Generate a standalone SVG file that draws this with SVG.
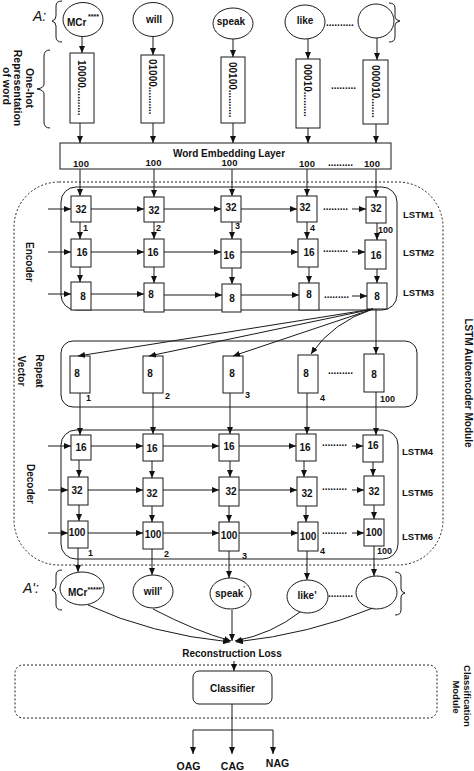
<svg xmlns="http://www.w3.org/2000/svg" width="474" height="771" viewBox="0 0 474 771">
<defs>
<marker id="ah" markerWidth="8" markerHeight="6" refX="7" refY="3" orient="auto" markerUnits="userSpaceOnUse"><path d="M0,0 L7,3 L0,6 z" fill="#111"/></marker>
<style>
.ln{stroke:#1a1a1a;stroke-width:1;fill:none}
.ar{stroke:#1a1a1a;stroke-width:1;fill:none;marker-end:url(#ah)}
.bx{fill:#fff;stroke:#1a1a1a;stroke-width:1}
.dot{fill:none;stroke:#222;stroke-width:1;stroke-dasharray:2 2}
.t{font-family:"Liberation Sans",Arial,sans-serif;font-weight:bold;font-size:10px;fill:#111}
.c{text-anchor:middle}
.s{font-size:9.5px}
.sm{font-size:9px}
.sup{font-size:7px}
.it{font-family:"Liberation Sans",Arial,sans-serif;font-style:italic;font-size:14px;fill:#111}
</style>
</defs>
<rect width="474" height="771" fill="#fff"/>

<!-- module containers -->
<g id="lstm-autoencoder-module">
<rect class="dot" x="14" y="182" width="429" height="383" rx="45"/>
<text class="t c" transform="translate(465,383) rotate(90)">LSTM Autoencoder Module</text>
</g>
<g id="classification-module">
<rect class="dot" x="15" y="665" width="422" height="53" rx="8"/>
<text class="t c s" transform="translate(464,696) rotate(90)">Classification</text>
<text class="t c s" transform="translate(453,697) rotate(90)">Module</text>
</g>

<!-- input words -->
<g id="input-A">
<text class="it" x="33" y="21">A:</text>
<path class="ln" d="M62,1 Q56,1 56,6 V16 Q56,20 52,21 Q56,22 56,26 V37 Q56,42 62,42"/>
<path class="ln" d="M389,3 Q395,3 395,8 V17 Q395,20 400,21 Q395,22 395,25 V37 Q395,42 389,42"/>
<text class="t" x="326" y="26">..........</text>
</g>
<g id="w1"><ellipse class="bx" cx="83" cy="19.5" rx="20" ry="17"/><text class="t" x="67" y="26">MCr</text><text class="t sup" x="88" y="19">****</text></g>
<g id="w2"><ellipse class="bx" cx="153" cy="19.5" rx="20" ry="17"/><text class="t c" x="154" y="23">will</text></g>
<g id="w3"><ellipse class="bx" cx="233" cy="23.5" rx="20" ry="15.5"/><text class="t c" x="231" y="24.5">speak</text></g>
<g id="w4"><ellipse class="bx" cx="305" cy="22" rx="20" ry="17"/><text class="t c" x="305" y="24">like</text></g>
<g id="w5"><ellipse class="bx" cx="376" cy="21" rx="18" ry="17"/></g>

<!-- one-hot -->
<g id="onehot-label">
<path class="ln" d="M50,50 Q44,50 44,56 V84 Q44,88 37,89 Q44,90 44,94 V122 Q44,128 50,128"/>
<text class="t c" style="font-size:10.5px" transform="translate(26,88) rotate(90)">One-hot</text>
<text class="t c" style="font-size:10.5px" transform="translate(14,88) rotate(90)">Representation</text>
<text class="t c" style="font-size:10.5px" transform="translate(2.5,86) rotate(90)">of word</text>
<text class="t" x="331" y="89">.........</text>
</g>
<g id="oh1"><rect class="bx" x="70" y="53" width="24" height="70"/><text class="t" transform="translate(78.4,60) rotate(90)">10000..........</text></g>
<g id="oh2"><rect class="bx" x="141" y="55" width="23" height="68"/><text class="t" transform="translate(149,59) rotate(90)">01000..........</text></g>
<g id="oh3"><rect class="bx" x="221" y="57" width="24" height="66"/><text class="t" transform="translate(229.4,62) rotate(90)">00100..........</text></g>
<g id="oh4"><rect class="bx" x="296" y="59" width="24" height="69"/><text class="t" transform="translate(304.4,64) rotate(90)">00010.........</text></g>
<g id="oh5"><rect class="bx" x="363" y="60" width="25" height="64"/><text class="t" transform="translate(372,65) rotate(90)">000010.......</text></g>

<!-- word embedding -->
<g id="word-embedding-layer">
<rect class="bx" x="60" y="143" width="331" height="26"/>
<text class="t c" x="229" y="156.5">Word Embedding Layer</text>
<text class="t c s" x="81" y="167">100</text>
<text class="t c s" x="153.5" y="166">100</text>
<text class="t c s" x="229.5" y="166">100</text>
<text class="t c s" x="307" y="166.5">100</text>
<text class="t c s" x="372" y="166.5">100</text>
<text class="t" x="328" y="166">.........</text>
</g>

<!-- encoder -->
<g id="encoder">
<rect class="ln" x="61" y="187" width="336" height="123" rx="15"/>
<text class="t c" transform="translate(26,262) rotate(90)">Encoder</text>
<text class="t s" x="403" y="218">LSTM1</text>
<text class="t s" x="403" y="256">LSTM2</text>
<text class="t s" x="403" y="296">LSTM3</text>
<text class="t" x="323" y="210">.........</text>
<text class="t" x="323" y="252">.........</text>
<text class="t" x="324" y="298">.........</text>
</g>
<g id="e1-1"><rect class="bx" x="71" y="196" width="20" height="26"/><text class="t c" x="81" y="212.5">32</text></g>
<g id="e1-2"><rect class="bx" x="144" y="197" width="20" height="25"/><text class="t c" x="154" y="214">32</text></g>
<g id="e1-3"><rect class="bx" x="221" y="196" width="20" height="26"/><text class="t c" x="231" y="211">32</text></g>
<g id="e1-4"><rect class="bx" x="297" y="196" width="20" height="26"/><text class="t c" x="305" y="211">32</text></g>
<g id="e1-5"><rect class="bx" x="366" y="197" width="20" height="26"/><text class="t c" x="376" y="212">32</text></g>
<g id="e2-1"><rect class="bx" x="71" y="239" width="20" height="28"/><text class="t c" x="82" y="256">16</text></g>
<g id="e2-2"><rect class="bx" x="144" y="239" width="20" height="28"/><text class="t c" x="153" y="256">16</text></g>
<g id="e2-3"><rect class="bx" x="221" y="239" width="20" height="29"/><text class="t c" x="229" y="259">16</text></g>
<g id="e2-4"><rect class="bx" x="298" y="239" width="20" height="28"/><text class="t c" x="309" y="256">16</text></g>
<g id="e2-5"><rect class="bx" x="365" y="240" width="21" height="29"/><text class="t c" x="376" y="259">16</text></g>
<g id="e3-1"><rect class="bx" x="71" y="282" width="20" height="28"/><text class="t c" x="83" y="300">8</text></g>
<g id="e3-2"><rect class="bx" x="144" y="283" width="20" height="29"/><text class="t c" x="151" y="298">8</text></g>
<g id="e3-3"><rect class="bx" x="222" y="284" width="19" height="28"/><text class="t c" x="232" y="302">8</text></g>
<g id="e3-4"><rect class="bx" x="299" y="283" width="20" height="27"/><text class="t c" x="309" y="298">8</text></g>
<g id="e3-5"><rect class="bx" x="367" y="283" width="20" height="26"/><text class="t c" x="377" y="300">8</text></g>
<g id="enc-labels">
<text class="t sm" x="83" y="231">1</text>
<text class="t sm" x="156" y="231">2</text>
<text class="t sm" x="235" y="229">3</text>
<text class="t sm" x="310" y="231">4</text>
<text class="t sm" x="378" y="233">100</text>
</g>

<!-- repeat vector -->
<g id="repeat-vector">
<rect class="ln" x="61" y="341" width="356" height="66" rx="12"/>
<text class="t c" transform="translate(36,371) rotate(90)">Repeat</text>
<text class="t c" transform="translate(18,371) rotate(90)">Vector</text>
<text class="t" x="328" y="374">.........</text>
<text class="t sm" x="86" y="401">1</text>
<text class="t sm" x="165" y="399">2</text>
<text class="t sm" x="245" y="398">3</text>
<text class="t sm" x="320" y="401">4</text>
<text class="t sm" x="380" y="402">100</text>
</g>
<g id="r1"><rect class="bx" x="70" y="356" width="20" height="37"/><text class="t c" x="77" y="377">8</text></g>
<g id="r2"><rect class="bx" x="143" y="356" width="20" height="37"/><text class="t c" x="150" y="377">8</text></g>
<g id="r3"><rect class="bx" x="223" y="356" width="20" height="37"/><text class="t c" x="232" y="377">8</text></g>
<g id="r4"><rect class="bx" x="298" y="355" width="20" height="38"/><text class="t c" x="306" y="377">8</text></g>
<g id="r5"><rect class="bx" x="364" y="354" width="20" height="38"/><text class="t c" x="374" y="378">8</text></g>

<!-- decoder -->
<g id="decoder">
<rect class="ln" x="61" y="430" width="337" height="129" rx="15"/>
<text class="t c" transform="translate(27,484) rotate(90)">Decoder</text>
<text class="t s" x="402" y="455">LSTM4</text>
<text class="t s" x="402" y="496">LSTM5</text>
<text class="t s" x="402" y="540">LSTM6</text>
<text class="t" x="322" y="446">.........</text>
<text class="t" x="322" y="490">.........</text>
<text class="t" x="322" y="534">.........</text>
<text class="t sm" x="88" y="556">1</text>
<text class="t sm" x="164" y="557">2</text>
<text class="t sm" x="242" y="559">3</text>
<text class="t sm" x="320" y="554">4</text>
<text class="t sm" x="377" y="554">100</text>
</g>
<g id="d4-1"><rect class="bx" x="71" y="435" width="20" height="25"/><text class="t c" x="81" y="451">16</text></g>
<g id="d4-2"><rect class="bx" x="143" y="434" width="20" height="27"/><text class="t c" x="152" y="452">16</text></g>
<g id="d4-3"><rect class="bx" x="219" y="434" width="20" height="27"/><text class="t c" x="229" y="450">16</text></g>
<g id="d4-4"><rect class="bx" x="296" y="434" width="20" height="27"/><text class="t c" x="305" y="451">16</text></g>
<g id="d4-5"><rect class="bx" x="363" y="435" width="20" height="27"/><text class="t c" x="373" y="449">16</text></g>
<g id="d5-1"><rect class="bx" x="68" y="477" width="20" height="28"/><text class="t c" x="77" y="494">32</text></g>
<g id="d5-2"><rect class="bx" x="143" y="478" width="20" height="28"/><text class="t c" x="152" y="497">32</text></g>
<g id="d5-3"><rect class="bx" x="219" y="477" width="20" height="29"/><text class="t c" x="231" y="495">32</text></g>
<g id="d5-4"><rect class="bx" x="297" y="477" width="20" height="29"/><text class="t c" x="307" y="497">32</text></g>
<g id="d5-5"><rect class="bx" x="364" y="476" width="20" height="29"/><text class="t c" x="374" y="495">32</text></g>
<g id="d6-1"><rect class="bx" x="68" y="521" width="20" height="27"/><text class="t c" x="77" y="536">100</text></g>
<g id="d6-2"><rect class="bx" x="143" y="522" width="20" height="27"/><text class="t c" x="153" y="538">100</text></g>
<g id="d6-3"><rect class="bx" x="219" y="522" width="20" height="29"/><text class="t c" x="229" y="539">100</text></g>
<g id="d6-4"><rect class="bx" x="298" y="522" width="20" height="29"/><text class="t c" x="308" y="540">100</text></g>
<g id="d6-5"><rect class="bx" x="364" y="519" width="20" height="27"/><text class="t c" x="374" y="536">100</text></g>

<!-- output words -->
<g id="output-A">
<text class="it" x="23" y="593">A':</text>
<path class="ln" d="M62,570 Q56,570 56,575 V585 Q56,589 52,590 Q56,591 56,595 V605 Q56,610 62,610"/>
<path class="ln" d="M395,572 Q401,572 401,577 V589 Q401,592 405,593 Q401,594 401,597 V610 Q401,615 395,615"/>
<text class="t" x="328" y="597">.........</text>
</g>
<g id="o1"><ellipse class="bx" cx="82" cy="588.5" rx="22" ry="16.5"/><text class="t" x="68" y="596">MCr<tspan class="sup" dy="-4">*****'</tspan></text></g>
<g id="o2"><ellipse class="bx" cx="153" cy="591.5" rx="20" ry="16.5"/><text class="t c" x="153" y="595">will'</text></g>
<g id="o3"><ellipse class="bx" cx="230.5" cy="593.5" rx="20.5" ry="15.5"/><text class="t" x="215" y="596.5">speak<tspan class="sup" dy="-6">'</tspan></text></g>
<g id="o4"><ellipse class="bx" cx="307.5" cy="596.5" rx="20.5" ry="16.5"/><text class="t c" x="307" y="599">like'</text></g>
<g id="o5"><ellipse class="bx" cx="376.5" cy="592.5" rx="20.5" ry="16.5"/></g>

<g id="reconstruction-loss"><text class="t c" x="232" y="656.5">Reconstruction Loss</text></g>
<g id="classifier"><rect class="bx" x="193" y="671" width="79" height="33" rx="6"/><text class="t c" x="232.5" y="691.5">Classifier</text></g>
<g id="oag"><text class="t c" style="font-size:10.5px" x="188.5" y="770">OAG</text></g>
<g id="cag"><text class="t c" style="font-size:10.5px" x="232.5" y="770">CAG</text></g>
<g id="nag"><text class="t c" style="font-size:10.5px" x="277.5" y="767">NAG</text></g>

<!-- connectors -->
<g id="connectors">
<path class="ar" d="M82,37 V53"/><path class="ar" d="M153,37 V55"/><path class="ar" d="M233,39 V57"/><path class="ar" d="M308,39 V59"/><path class="ar" d="M377,38 V60"/>
<path class="ar" d="M80,123 V143"/><path class="ar" d="M153,123 V143"/><path class="ar" d="M233,123 V143"/><path class="ar" d="M308,128 V143"/><path class="ar" d="M376,124 V143"/>
<path class="ar" d="M80,169 V196"/><path class="ar" d="M154,169 V197"/><path class="ar" d="M232,169 V196"/><path class="ar" d="M307,169 V196"/><path class="ar" d="M376,169 V197"/>
<path class="ar" d="M48,209 H71"/><path class="ar" d="M91,209 H144"/><path class="ar" d="M164,209 H221"/><path class="ar" d="M241,209 H297"/><path class="ar" d="M352,209 H366"/>
<path class="ar" d="M80,222 V239"/><path class="ar" d="M154,222 V239"/><path class="ar" d="M232,222 V239"/><path class="ar" d="M307,222 V239"/><path class="ar" d="M377,223 V240"/>
<path class="ar" d="M48,252 H71"/><path class="ar" d="M91,252 H144"/><path class="ar" d="M164,252 H221"/><path class="ar" d="M241,252 H298"/><path class="ar" d="M352,252 H365"/>
<path class="ar" d="M80,267 V282"/><path class="ar" d="M154,267 V283"/><path class="ar" d="M232,268 V284"/><path class="ar" d="M309,267 V283"/><path class="ar" d="M377,269 V283"/>
<path class="ar" d="M48,294 H71"/><path class="ar" d="M91,294 H144"/><path class="ar" d="M164,295 H222"/><path class="ar" d="M241,295 H299"/><path class="ar" d="M352,296 H367"/>
<path class="ar" d="M373,309 L78,356"/><path class="ar" d="M373,309 L149,356"/><path class="ar" d="M373,309 L233,356"/><path class="ar" d="M373,309 Q333,322 311,354"/><path class="ar" d="M376,309 V354"/>
<path class="ar" d="M80,393 V435"/><path class="ar" d="M153,393 V434"/><path class="ar" d="M230,393 V434"/><path class="ar" d="M307,393 V434"/><path class="ar" d="M376,392 V435"/>
<path class="ar" d="M48,446 H71"/><path class="ar" d="M91,446 H143"/><path class="ar" d="M163,446 H219"/><path class="ar" d="M239,446 H296"/><path class="ar" d="M352,446 H363"/>
<path class="ar" d="M79,460 V477"/><path class="ar" d="M152,461 V478"/><path class="ar" d="M230,461 V477"/><path class="ar" d="M304,461 V477"/><path class="ar" d="M373,462 V476"/>
<path class="ar" d="M48,490 H68"/><path class="ar" d="M88,490 H143"/><path class="ar" d="M163,490 H219"/><path class="ar" d="M239,490 H297"/><path class="ar" d="M352,490 H364"/>
<path class="ar" d="M79,505 V521"/><path class="ar" d="M152,506 V522"/><path class="ar" d="M229,506 V522"/><path class="ar" d="M306,506 V522"/><path class="ar" d="M374,505 V519"/>
<path class="ar" d="M48,533 H68"/><path class="ar" d="M88,533 H143"/><path class="ar" d="M163,533 H219"/><path class="ar" d="M239,533 H298"/><path class="ar" d="M352,533 H364"/>
<path class="ar" d="M78,548 V572"/><path class="ar" d="M152,549 V575"/><path class="ar" d="M229,551 V578"/><path class="ar" d="M307,551 V580"/><path class="ar" d="M374,546 V576"/>
<path class="ar" d="M88,605 Q150,634 230,642"/><path class="ar" d="M153,609 Q195,631 231,641"/><path class="ar" d="M232,610 V641"/><path class="ar" d="M300,612 Q272,634 235,641"/><path class="ar" d="M373,608 Q310,634 236,642"/>
<path class="ar" d="M234,661 V671"/>
<path class="ar" d="M232,704 V754"/><path class="ln" d="M193,730 H273"/><path class="ar" d="M193,730 V754"/><path class="ar" d="M273,730 V754"/>
</g>
</svg>
